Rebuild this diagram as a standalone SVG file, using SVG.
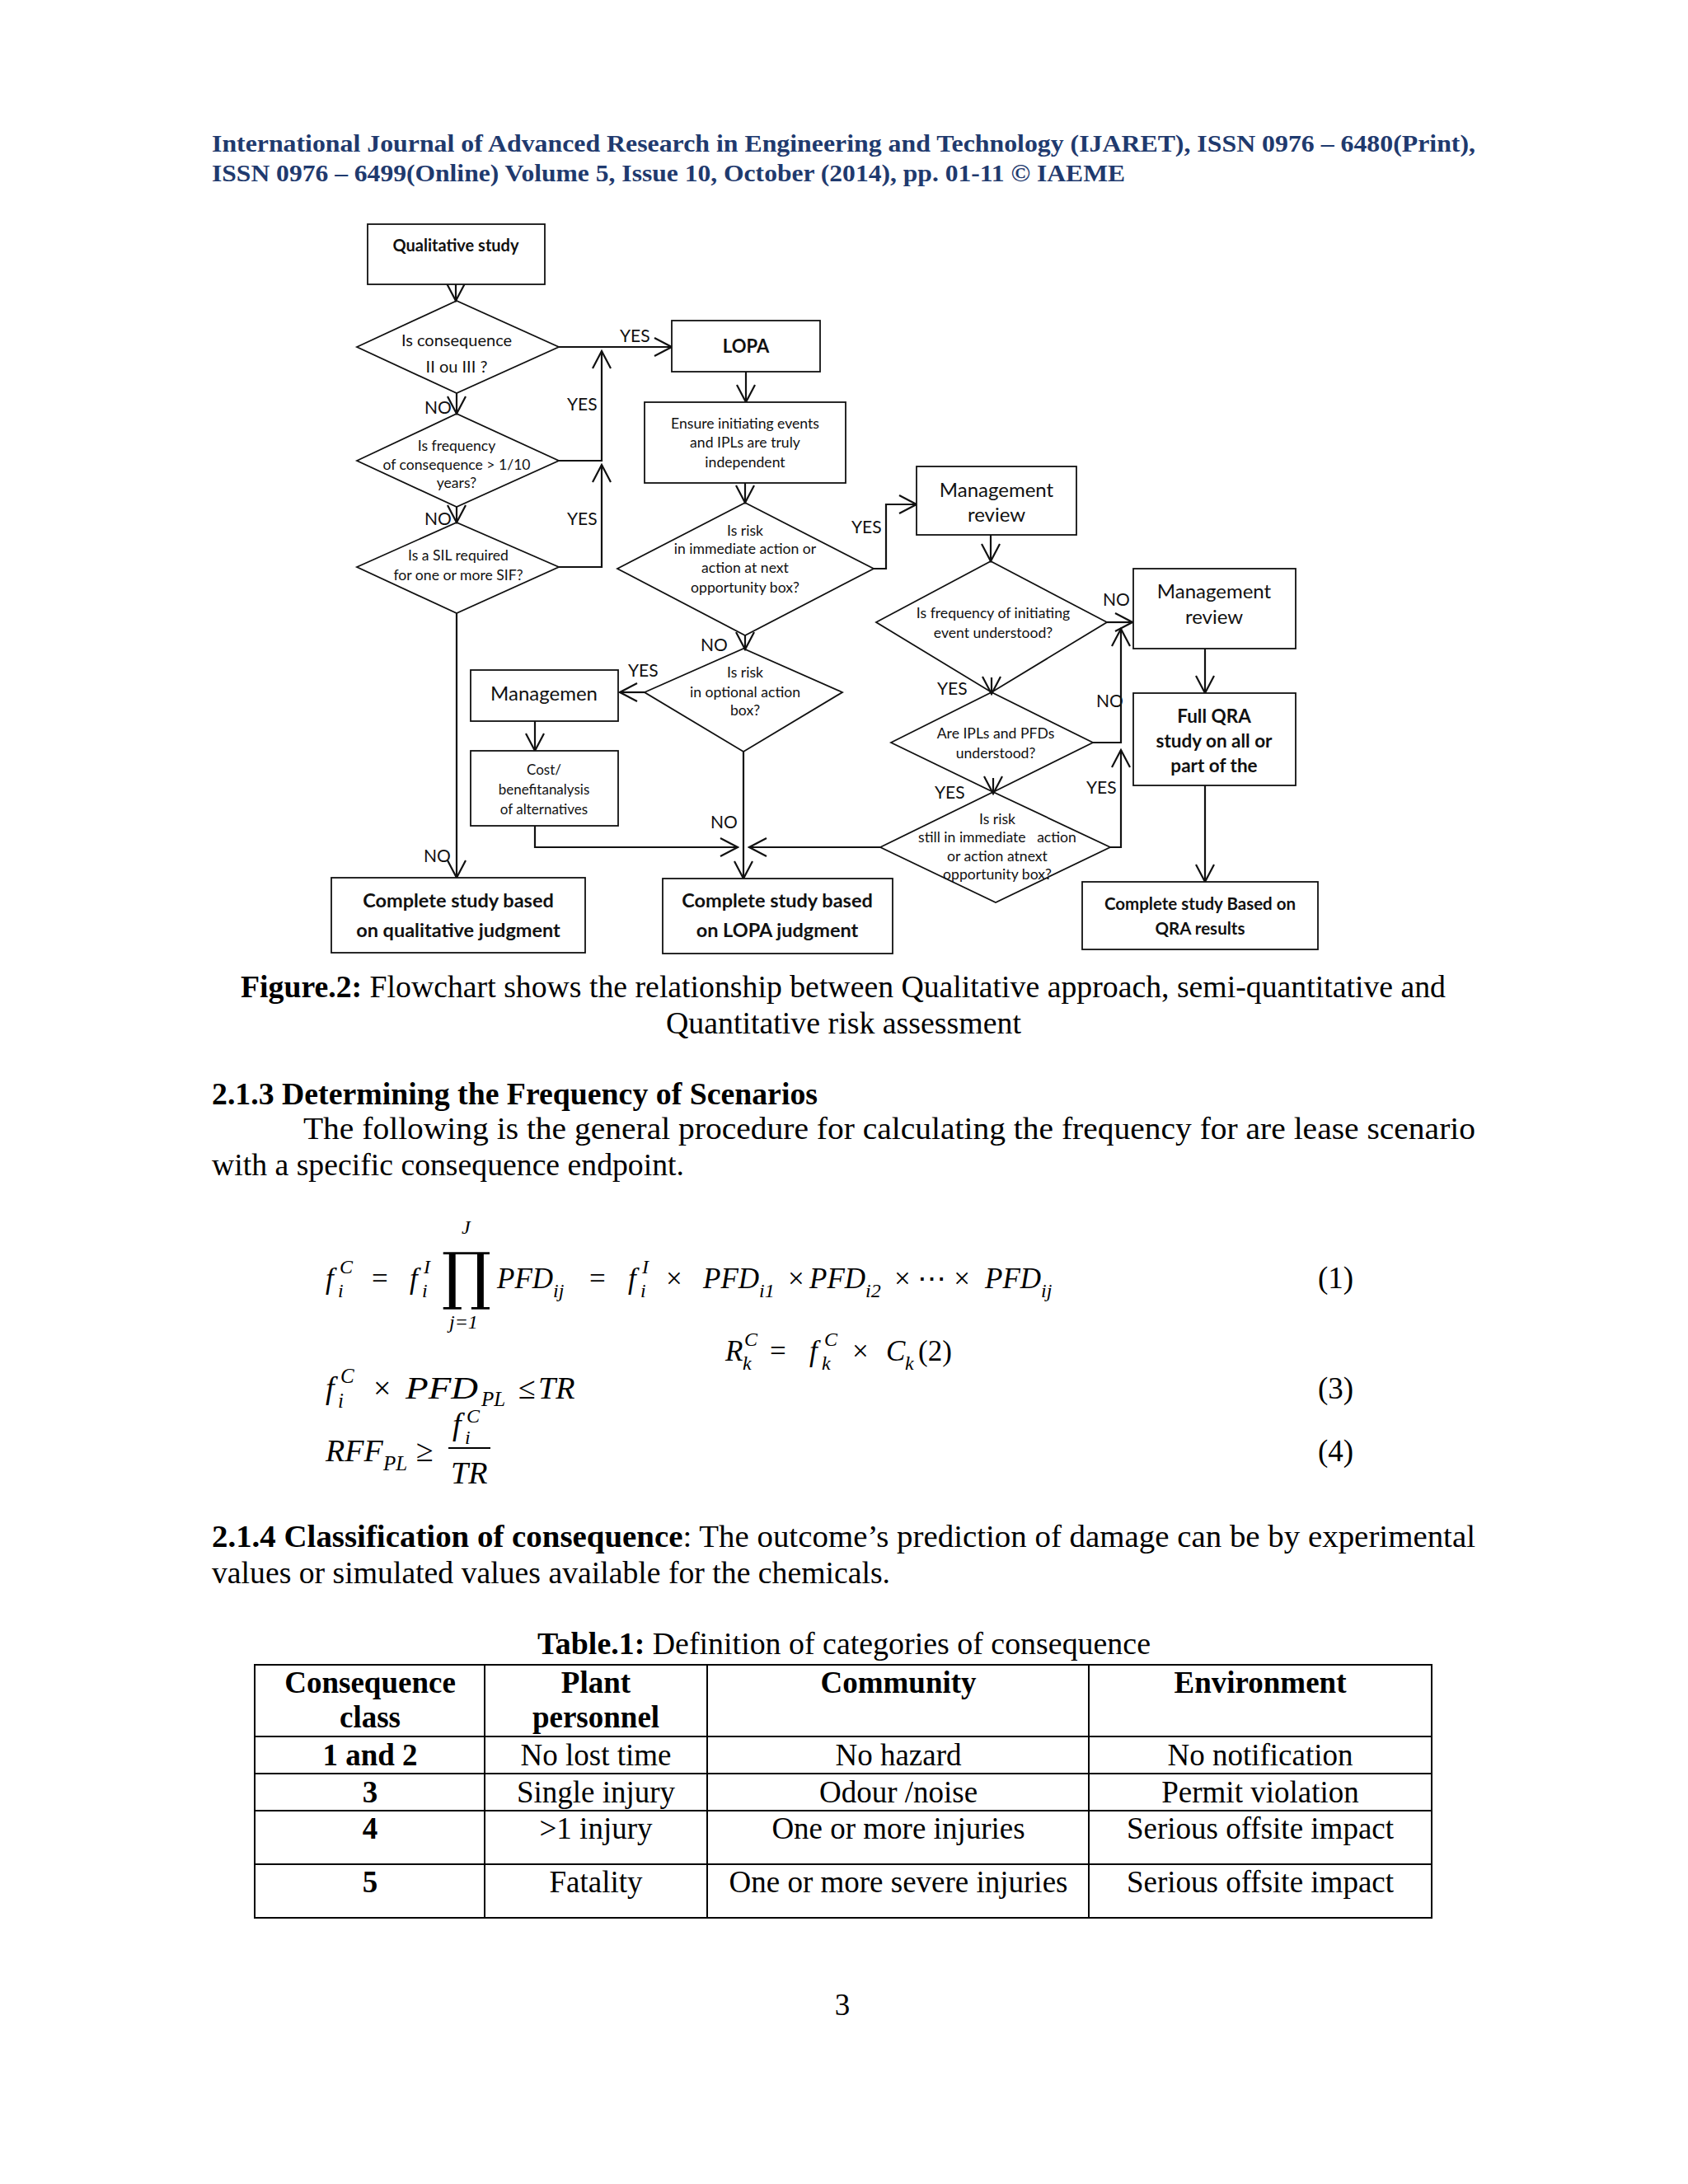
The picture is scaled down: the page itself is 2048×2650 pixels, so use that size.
<svg xmlns="http://www.w3.org/2000/svg" width="2048" height="2650" viewBox="0 0 2048 2650">
<defs>
<marker id="ah" viewBox="-23 -13 25 26" refX="0" refY="0" markerWidth="25" markerHeight="26" markerUnits="userSpaceOnUse" orient="auto">
<path d="M-21,-11 L0,0 L-21,11" fill="none" stroke="#111" stroke-width="2.2"/>
</marker>
<style>
.bx{fill:#fff;stroke:#111;stroke-width:1.8}
.dm{fill:none;stroke:#111;stroke-width:1.8}
.ln{fill:none;stroke:#111;stroke-width:2.2;marker-end:url(#ah)}
.fc{font-family:Lato,"Open Sans",sans-serif;fill:#111;text-anchor:middle}
.b{font-weight:bold}
.s17{font-size:17.6px}
.s24{font-size:24px}
.lb{font-family:Lato,"Open Sans",sans-serif;fill:#111;font-size:21px}
.tm{font-family:"Liberation Serif","Times New Roman",serif;fill:#000;font-size:37px}
.hd{font-family:"Liberation Serif","Times New Roman",serif;fill:#1f3a6e;font-size:30px;font-weight:bold}
.m{font-family:"Liberation Serif","Times New Roman",serif;font-style:italic;font-size:35px;fill:#000}
.ms{font-family:"Liberation Serif","Times New Roman",serif;font-style:italic;font-size:24px;fill:#000}
.mr{font-family:"Liberation Serif","Times New Roman",serif;font-size:35px;fill:#000}
.m2{font-family:"Liberation Serif","Times New Roman",serif;font-style:italic;font-size:38px;fill:#000}
.ms2{font-family:"Liberation Serif","Times New Roman",serif;font-style:italic;font-size:25px;fill:#000}
.mr2{font-family:"Liberation Serif","Times New Roman",serif;font-size:38px;fill:#000}
.eqn{font-family:"Liberation Serif","Times New Roman",serif;font-size:37px;fill:#000}
.tc{font-family:"Liberation Serif","Times New Roman",serif;font-size:37px;fill:#000;text-anchor:middle}
.tl{stroke:#000;stroke-width:2;fill:none}
</style>
</defs>
<rect width="2048" height="2650" fill="#fff"/>

<text class="hd" x="257" y="184" textLength="1533" lengthAdjust="spacingAndGlyphs">International Journal of Advanced Research in Engineering and Technology (IJARET), ISSN 0976 – 6480(Print),</text>
<text class="hd" x="257" y="220" textLength="1108" lengthAdjust="spacingAndGlyphs">ISSN 0976 – 6499(Online) Volume 5, Issue 10, October (2014), pp. 01-11 © IAEME</text>

<g id="connectors">
<path class="ln" d="M553,345 V365"/>
<path class="ln" d="M678,421 H815"/>
<path class="ln" d="M554,477 V502"/>
<path class="ln" d="M554,615 V634"/>
<path class="ln" d="M678,688 H730 V564"/>
<path class="ln" d="M678,559 H730 V426"/>
<path class="ln" d="M554,744 V1065"/>
<path class="ln" d="M905,451 V488"/>
<path class="ln" d="M904,586 V610"/>
<path class="ln" d="M1060,690 H1075 V612 H1112"/>
<path class="ln" d="M904,771 V788"/>
<path class="ln" d="M782,840 H752"/>
<path class="ln" d="M649,875 V911"/>
<path class="ln" d="M649,1002 V1028 H895"/>
<path class="ln" d="M902,912 V1066"/>
<path class="ln" d="M1068,1028 H909"/>
<path class="ln" d="M1202,649 V681"/>
<path class="ln" d="M1343,755 H1374"/>
<path class="ln" d="M1203,822 V842"/>
<path class="ln" d="M1205,944 V963"/>
<path class="ln" d="M1326,901 H1360 V763"/>
<path class="ln" d="M1347,1028 H1360 V910"/>
<path class="ln" d="M1462,787 V841"/>
<path class="ln" d="M1462,953 V1070"/>
</g>

<g id="labels">
<text class="lb" x="752" y="415">YES</text>
<text class="lb" x="688" y="498">YES</text>
<text class="lb" x="688" y="637">YES</text>
<text class="lb" x="515" y="502">NO</text>
<text class="lb" x="515" y="637">NO</text>
<text class="lb" x="514" y="1046">NO</text>
<text class="lb" x="1033" y="647">YES</text>
<text class="lb" x="850" y="790">NO</text>
<text class="lb" x="762" y="821">YES</text>
<text class="lb" x="862" y="1005">NO</text>
<text class="lb" x="1338" y="735">NO</text>
<text class="lb" x="1137" y="843">YES</text>
<text class="lb" x="1330" y="858">NO</text>
<text class="lb" x="1134" y="969">YES</text>
<text class="lb" x="1318" y="963">YES</text>
</g>

<g id="n_qual"><rect class="bx" x="446" y="272" width="215" height="73"/><text class="fc b" x="553" y="305" font-size="20">Qualitative study</text></g>
<g id="d1"><polygon class="dm" points="433,421 554,365 678,421 554,477"/><text class="fc" x="554" y="420" font-size="20">Is consequence</text><text class="fc" x="554" y="452" font-size="20">II ou III ?</text></g>
<g id="n_lopa"><rect class="bx" x="815" y="389" width="180" height="62"/><text class="fc b" x="905" y="428" font-size="22">LOPA</text></g>
<g id="d2"><polygon class="dm" points="433,559 554,502 678,559 554,615"/><text class="fc s17" x="554" y="547">Is frequency</text><text class="fc s17" x="554" y="570">of consequence &gt; 1/10</text><text class="fc s17" x="554" y="592">years?</text></g>
<g id="d3"><polygon class="dm" points="433,688 554,634 678,688 554,744"/><text class="fc s17" x="556" y="680">Is a SIL required</text><text class="fc s17" x="556" y="704">for one or more SIF?</text></g>
<g id="n_ensure"><rect class="bx" x="782" y="488" width="244" height="98"/><text class="fc s17" x="904" y="520">Ensure initiating events</text><text class="fc s17" x="904" y="543">and IPLs are truly</text><text class="fc s17" x="904" y="567">independent</text></g>
<g id="d4"><polygon class="dm" points="749,690 904,610 1060,690 904,771"/><text class="fc s17" x="904" y="650">Is risk</text><text class="fc s17" x="904" y="672">in immediate action or</text><text class="fc s17" x="904" y="695">action at next</text><text class="fc s17" x="904" y="719">opportunity box?</text></g>
<g id="n_mr1"><rect class="bx" x="1112" y="566" width="194" height="83"/><text class="fc s24" x="1209" y="603">Management</text><text class="fc s24" x="1209" y="633">review</text></g>
<g id="d5"><polygon class="dm" points="1063,755 1202,681 1343,755 1203,840"/><text class="fc s17" x="1205" y="750">Is frequency of initiating</text><text class="fc s17" x="1205" y="774">event understood?</text></g>
<g id="n_mr2"><rect class="bx" x="1375" y="690" width="197" height="97"/><text class="fc s24" x="1473" y="726">Management</text><text class="fc s24" x="1473" y="757">review</text></g>
<g id="n_fullqra"><rect class="bx" x="1375" y="841" width="197" height="112"/><text class="fc b" x="1473" y="877" font-size="22.5">Full QRA</text><text class="fc b" x="1473" y="907" font-size="22.5">study on all or</text><text class="fc b" x="1473" y="937" font-size="22.5">part of the</text></g>
<g id="n_cqra"><rect class="bx" x="1313" y="1070" width="286" height="82"/><text class="fc b" x="1456" y="1104" font-size="20.5">Complete study Based on</text><text class="fc b" x="1456" y="1134" font-size="20.5">QRA results</text></g>
<g id="d6"><polygon class="dm" points="1081,901 1203,840 1326,901 1205,961"/><text class="fc s17" x="1208" y="896">Are IPLs and PFDs</text><text class="fc s17" x="1208" y="920">understood?</text></g>
<g id="d7"><polygon class="dm" points="1068,1028 1205,961 1347,1028 1208,1095"/><text class="fc s17" x="1210" y="1000">Is risk</text><text class="fc s17" x="1210" y="1022" xml:space="preserve">still in immediate   action</text><text class="fc s17" x="1210" y="1045">or action atnext</text><text class="fc s17" x="1210" y="1067">opportunity box?</text></g>
<g id="d_opt"><polygon class="dm" points="782,840 902,787 1022,840 902,912"/><text class="fc s17" x="904" y="822">Is risk</text><text class="fc s17" x="904" y="846">in optional action</text><text class="fc s17" x="904" y="868">box?</text></g>
<g id="n_mgmt"><rect class="bx" x="571" y="813" width="179" height="62"/><text class="fc s24" x="660" y="850">Managemen</text></g>
<g id="n_cost"><rect class="bx" x="571" y="911" width="179" height="91"/><text class="fc" x="660" y="940" font-size="17">Cost/</text><text class="fc" x="660" y="964" font-size="17">benefitanalysis</text><text class="fc" x="660" y="988" font-size="17">of alternatives</text></g>
<g id="n_cqual"><rect class="bx" x="402" y="1065" width="308" height="91"/><text class="fc b" x="556" y="1101" font-size="23.5">Complete study based</text><text class="fc b" x="556" y="1137" font-size="23.5">on qualitative judgment</text></g>
<g id="n_clopa"><rect class="bx" x="804" y="1066" width="279" height="91"/><text class="fc b" x="943" y="1101" font-size="23.5">Complete study based</text><text class="fc b" x="943" y="1137" font-size="23.5">on LOPA judgment</text></g>

<text class="tm" x="292" y="1210" textLength="1462" lengthAdjust="spacingAndGlyphs"><tspan font-weight="bold">Figure.2:</tspan> Flowchart shows the relationship between Qualitative approach, semi-quantitative and</text>
<text class="tm" x="808" y="1254" textLength="431" lengthAdjust="spacingAndGlyphs">Quantitative risk assessment</text>

<text class="tm" x="257" y="1340" font-weight="bold" textLength="735" lengthAdjust="spacingAndGlyphs">2.1.3 Determining the Frequency of Scenarios</text>
<text class="tm" x="368" y="1382" textLength="1422" lengthAdjust="spacingAndGlyphs">The following is the general procedure for calculating the frequency for are lease scenario</text>
<text class="tm" x="257" y="1426" textLength="573" lengthAdjust="spacingAndGlyphs">with a specific consequence endpoint.</text>

<g id="equations">
<text class="m" x="395" y="1563">f</text><text class="ms" x="412" y="1545">C</text><text class="ms" x="410" y="1574">i</text>
<text class="mr" x="451" y="1563">=</text>
<text class="m" x="497" y="1563">f</text><text class="ms" x="514" y="1545">I</text><text class="ms" x="512" y="1574">i</text>
<text class="ms" x="560" y="1497">J</text>
<text x="566" y="1574" font-family="'DejaVu Serif',serif" font-size="76" text-anchor="middle">∏</text>
<text class="ms" x="545" y="1612">j=1</text>
<text class="m" x="603" y="1563">PFD</text><text class="ms" x="671" y="1574">ij</text>
<text class="mr" x="715" y="1563">=</text>
<text class="m" x="762" y="1563">f</text><text class="ms" x="779" y="1545">I</text><text class="ms" x="777" y="1574">i</text>
<text class="mr" x="808" y="1563">×</text>
<text class="m" x="853" y="1563">PFD</text><text class="ms" x="921" y="1574">i1</text>
<text class="mr" x="956" y="1563">×</text>
<text class="m" x="982" y="1563">PFD</text><text class="ms" x="1050" y="1574">i2</text>
<text class="mr" x="1085" y="1563">× ⋯ ×</text>
<text class="m" x="1195" y="1563">PFD</text><text class="ms" x="1263" y="1574">ij</text>
<text class="eqn" x="1599" y="1563">(1)</text>

<text class="m" x="880" y="1651">R</text><text class="ms" x="903" y="1633">C</text><text class="ms" x="901" y="1662">k</text>
<text class="mr" x="934" y="1651">=</text>
<text class="m" x="982" y="1651">f</text><text class="ms" x="1000" y="1633">C</text><text class="ms" x="997" y="1662">k</text>
<text class="mr" x="1034" y="1651">×</text>
<text class="m" x="1075" y="1651">C</text><text class="ms" x="1098" y="1662">k</text>
<text class="mr" x="1114" y="1651">(2)</text>

<text class="m2" x="395" y="1697">f</text><text class="ms2" x="413" y="1678">C</text><text class="ms2" x="410" y="1708">i</text>
<text class="mr2" x="453" y="1697">×</text>
<text class="m2" x="492" y="1697" textLength="88" lengthAdjust="spacingAndGlyphs">PFD</text><text class="ms2" x="584" y="1706">PL</text>
<text class="mr2" x="629" y="1697">≤</text><text class="m2" x="653" y="1697">TR</text>
<text class="eqn" x="1599" y="1697">(3)</text>

<text class="m2" x="395" y="1773">RFF</text><text class="ms2" x="465" y="1784">PL</text>
<text class="mr2" x="505" y="1773">≥</text>
<text class="m2" x="549" y="1741">f</text><text class="ms" x="566" y="1726">C</text><text class="ms" x="564" y="1752">i</text>
<line x1="544" y1="1757" x2="595" y2="1757" stroke="#000" stroke-width="2"/>
<text class="m2" x="547" y="1800">TR</text>
<text class="eqn" x="1599" y="1773">(4)</text>
</g>

<text class="tm" x="257" y="1877" textLength="1533" lengthAdjust="spacingAndGlyphs"><tspan font-weight="bold">2.1.4 Classification of consequence</tspan>: The outcome’s prediction of damage can be by experimental</text>
<text class="tm" x="257" y="1921" textLength="823" lengthAdjust="spacingAndGlyphs">values or simulated values available for the chemicals.</text>

<text class="tm" x="652" y="2007" textLength="744" lengthAdjust="spacingAndGlyphs"><tspan font-weight="bold">Table.1:</tspan> Definition of categories of consequence</text>

<g id="table">
<rect class="tl" x="309" y="2020" width="1428" height="307"/>
<line class="tl" x1="588" y1="2020" x2="588" y2="2327"/>
<line class="tl" x1="858" y1="2020" x2="858" y2="2327"/>
<line class="tl" x1="1321" y1="2020" x2="1321" y2="2327"/>
<line class="tl" x1="309" y1="2107" x2="1737" y2="2107"/>
<line class="tl" x1="309" y1="2152" x2="1737" y2="2152"/>
<line class="tl" x1="309" y1="2197" x2="1737" y2="2197"/>
<line class="tl" x1="309" y1="2262" x2="1737" y2="2262"/>
<text class="tc" x="449" y="2054" font-weight="bold">Consequence</text>
<text class="tc" x="449" y="2096" font-weight="bold">class</text>
<text class="tc" x="723" y="2054" font-weight="bold">Plant</text>
<text class="tc" x="723" y="2096" font-weight="bold">personnel</text>
<text class="tc" x="1090" y="2054" font-weight="bold">Community</text>
<text class="tc" x="1529" y="2054" font-weight="bold">Environment</text>
<text class="tc" x="449" y="2142" font-weight="bold">1 and 2</text>
<text class="tc" x="723" y="2142">No lost time</text>
<text class="tc" x="1090" y="2142">No hazard</text>
<text class="tc" x="1529" y="2142">No notification</text>
<text class="tc" x="449" y="2187" font-weight="bold">3</text>
<text class="tc" x="723" y="2187">Single injury</text>
<text class="tc" x="1090" y="2187">Odour /noise</text>
<text class="tc" x="1529" y="2187">Permit violation</text>
<text class="tc" x="449" y="2231" font-weight="bold">4</text>
<text class="tc" x="723" y="2231">&gt;1 injury</text>
<text class="tc" x="1090" y="2231">One or more injuries</text>
<text class="tc" x="1529" y="2231">Serious offsite impact</text>
<text class="tc" x="449" y="2296" font-weight="bold">5</text>
<text class="tc" x="723" y="2296">Fatality</text>
<text class="tc" x="1090" y="2296">One or more severe injuries</text>
<text class="tc" x="1529" y="2296">Serious offsite impact</text>
</g>

<text class="tc" x="1022" y="2445" font-size="34">3</text>
</svg>
